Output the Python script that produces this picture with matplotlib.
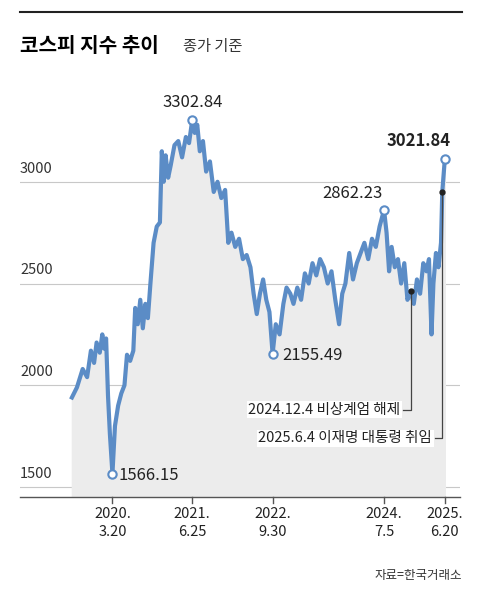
import matplotlib.pyplot as plt

plt.rcParams['font.family'] = ['Noto Sans CJK KR', 'DejaVu Sans']

# fractional year, index value
dates = [2019.58, 2019.66, 2019.75, 2019.82, 2019.88, 2019.93, 2019.97, 2020.02, 2020.06,
         2020.09, 2020.12, 2020.15, 2020.18, 2020.22, 2020.26, 2020.31, 2020.36, 2020.41,
         2020.45, 2020.5, 2020.55, 2020.58, 2020.62, 2020.66, 2020.7, 2020.74, 2020.78,
         2020.82, 2020.87, 2020.92, 2020.97, 2021.0, 2021.03, 2021.06, 2021.1, 2021.14,
         2021.2, 2021.26, 2021.32, 2021.38, 2021.43, 2021.48, 2021.52, 2021.56, 2021.6,
         2021.65, 2021.7, 2021.76, 2021.82, 2021.88, 2021.94, 2022.0, 2022.05, 2022.1,
         2022.16, 2022.22, 2022.28, 2022.34, 2022.4, 2022.45, 2022.5, 2022.55, 2022.6,
         2022.65, 2022.7, 2022.75, 2022.8, 2022.86, 2022.92, 2022.97, 2023.03, 2023.08,
         2023.14, 2023.2, 2023.26, 2023.32, 2023.38, 2023.44, 2023.5, 2023.56, 2023.62,
         2023.68, 2023.74, 2023.8, 2023.85, 2023.9, 2023.96, 2024.02, 2024.08, 2024.14,
         2024.2, 2024.26, 2024.32, 2024.38, 2024.44, 2024.51, 2024.55, 2024.59, 2024.63,
         2024.68, 2024.73, 2024.78, 2024.83, 2024.88, 2024.93, 2024.98, 2025.03, 2025.08,
         2025.13, 2025.18, 2025.22, 2025.26, 2025.29, 2025.33, 2025.37, 2025.41, 2025.43,
         2025.47]
values = [1940, 1990, 2080, 2040, 2170, 2110, 2210, 2160, 2250, 2180, 2230, 1950, 1760, 1566,
          1800, 1900, 1960, 2000, 2150, 2120, 2170, 2380, 2300, 2420, 2280, 2400, 2330,
          2500, 2700, 2780, 2800, 3150, 3000, 3130, 3020, 3080, 3180, 3200, 3120, 3220,
          3190, 3302, 3240, 3280, 3150, 3200, 3050, 3100, 2950, 3000, 2920, 2960, 2700,
          2750, 2680, 2720, 2620, 2640, 2580, 2450, 2350, 2450, 2520, 2420, 2360, 2155,
          2300, 2250, 2400, 2480, 2450, 2400, 2480, 2420, 2550, 2500, 2600, 2540, 2620,
          2580, 2500, 2560, 2420, 2300, 2450, 2500, 2650, 2520, 2600, 2650, 2700, 2620,
          2720, 2680, 2780, 2862, 2750, 2560, 2680, 2580, 2620, 2500, 2600, 2420, 2464,
          2400, 2520, 2450, 2600, 2560, 2620, 2250, 2500, 2650, 2580, 2700, 2950, 3110]

xtick_pos = [2020.22, 2021.48, 2022.75, 2024.51, 2025.47]
xtick_lab = ['2020.\n3.20', '2021.\n6.25', '2022.\n9.30', '2024.\n7.5', '2025.\n6.20']
yticks = [1500, 2000, 2500, 3000]
blue = '#5b8cc6'

fig = plt.figure(figsize=(4.8, 6), dpi=100)
ax = fig.add_axes([20 / 480, 1 - 497 / 600, 440 / 480, 407 / 600])
ax.set_xlim(2018.76, 2025.71)
ax.set_ylim(1451, 3451)
ax.axis('off')

for y in yticks:
    ax.axhline(y, color='#c8c8c8', lw=0.8, zorder=0)
    ax.text(2018.76, y + 30, str(y), fontsize=10.5, color='#333333', va='bottom', ha='left')
ax.axhline(1451, color='#555555', lw=1, clip_on=False)

ax.fill_between(dates, values, 1451, color='#ececec', zorder=1)
ax.plot(dates, values, color=blue, lw=3, zorder=3)

# marked points
marks = [(2020.22, 1566, '1566.15', 'left', 0.1, -10, False),
         (2021.48, 3302, '3302.84', 'center', 0, 90, False),
         (2022.75, 2155, '2155.49', 'left', 0.15, -10, False),
         (2024.51, 2862, '2862.23', 'right', -0.02, 80, False),
         (2025.47, 3110, '3021.84', 'right', 0.1, 90, True)]
for x, y, s, ha, dx, dy, bold in marks:
    ax.plot(x, y, 'o', ms=6, mfc='white', mec=blue, mew=1.5, zorder=5)
    ax.text(x + dx, y + dy, s, fontsize=12, ha=ha, va='center',
            fontweight='bold' if bold else 'normal', color='#222222', zorder=6)

# event callouts
events = [(2024.93, 2464, 1880, '2024.12.4 비상계엄 해제'),
          (2025.43, 2950, 1740, '2025.6.4 이재명 대통령 취임')]
for x, y, ly, s in events:
    ax.plot(x, y, 'o', ms=3.5, color='#222222', zorder=6)
    ax.plot([x, x, x - 0.12], [y, ly, ly], color='#444444', lw=0.9, zorder=4)
    ax.text(x - 0.16, ly, s, fontsize=10.5, ha='right', va='center', color='#222222',
            bbox=dict(fc='white', ec='none', pad=1), zorder=6)

for x, lab in zip(xtick_pos, xtick_lab):
    ax.plot([x, x], [1451, 1420], color='#555555', lw=1, clip_on=False)
    ax.text(x, 1400, lab, fontsize=10.5, ha='center', va='top', color='#222222',
            linespacing=1.3)

fig.add_artist(plt.Line2D([20 / 480, 462 / 480], [1 - 12 / 600] * 2, color='#222222', lw=1.5))
fig.text(20 / 480, 1 - 45 / 600, '코스피 지수 추이', fontsize=14.5, fontweight='bold', va='center')
fig.text(183 / 480, 1 - 46 / 600, '종가 기준', fontsize=11, va='center', color='#333333')
fig.text(462 / 480, 1 - 575 / 600, '자료=한국거래소', fontsize=9, ha='right', va='center',
         color='#333333')

fig.savefig('out.png', dpi=100)
